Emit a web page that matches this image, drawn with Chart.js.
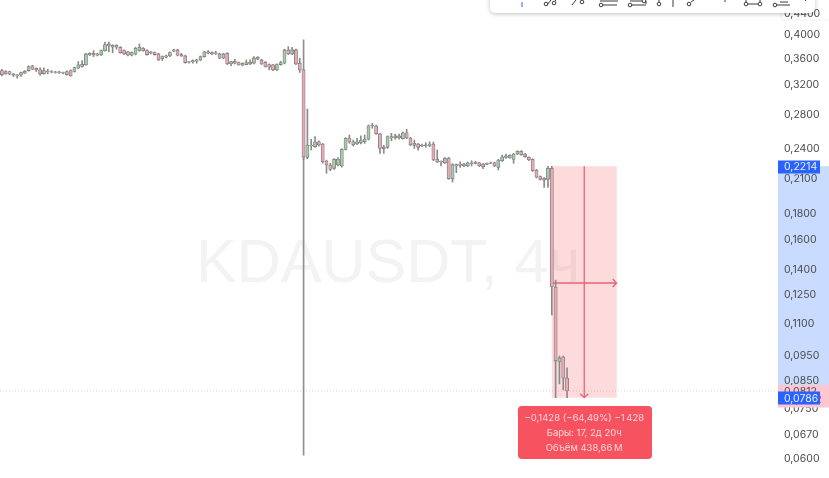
<!DOCTYPE html>
<html>
<head>
<meta charset="utf-8">
<style>
  html, body { margin: 0; padding: 0; background: #fff; }
  #wrap { width: 829px; height: 478px; overflow: hidden; }
</style>
<script src="https://cdn.jsdelivr.net/npm/chart.js@4/dist/chart.umd.min.js"></script>
</head>
<body>
<div id="wrap"><canvas id="chart1" width="829" height="478"></canvas></div>
<script>
// 4h candles
const opens = [
  .3396,.3347,.3382,.3347,.3332,.3327,.3357,.3396,.3468,.3432,.3407,.3347,.3387,.3382,.3377,.3362,.3367,.3332,.3396,.3382,
  .3432,.3458,.3484,.3670,.3643,.3659,.3643,.3713,.3826,.3770,.3803,.3770,.3713,.3692,.3638,.3654,.3713,.3753,.3713,.3692,
  .3680,.3659,.3583,.3605,.3626,.3703,.3725,.3648,.3626,.3536,.3536,.3541,.3562,.3615,.3692,.3659,.3675,.3659,.3589,.3670,
  .3499,.3541,.3520,.3510,.3489,.3526,.3510,.3605,.3562,.3526,.3489,.3484,.3407,.3489,.3510,.3725,.3659,.3725,.3510,.3407,
  .2304,.2427,.2416,.2470,.2445,.2266,.2226,.2193,.2226,.2216,.2387,.2512,.2437,.2445,.2460,.2470,.2498,.2650,.2650,.2560,
  .2394,.2409,.2527,.2516,.2512,.2505,.2571,.2512,.2431,.2445,.2423,.2427,.2431,.2445,.2283,.2263,.2249,.2297,.2094,.2216,
  .2236,.2216,.2216,.2239,.2253,.2249,.2236,.2233,.2243,.2249,.2203,.2269,.2304,.2297,.2283,.2338,.2366,.2338,.2304,.2283,
  .2177,.2113,.2097,.2088,.2193,.1290,.0922,.0943,.0858
];
const highs = [
  .3417,.3396,.3387,.3352,.3337,.3372,.3396,.3468,.3479,.3437,.3437,.3437,.3417,.3396,.3387,.3387,.3372,.3392,.3407,.3448,
  .3536,.3551,.3670,.3680,.3713,.3670,.3725,.3860,.3860,.3814,.3814,.3780,.3725,.3703,.3692,.3770,.3826,.3765,.3725,.3703,
  .3692,.3670,.3626,.3638,.3692,.3737,.3737,.3670,.3638,.3541,.3562,.3573,.3626,.3703,.3713,.3692,.3703,.3670,.3670,.3680,
  .3541,.3573,.3530,.3515,.3562,.3562,.3615,.3615,.3573,.3536,.3499,.3494,.3499,.3541,.3737,.3780,.3770,.3737,.3590,.3417,
  .2860,.2498,.2527,.2481,.2452,.2275,.2243,.2290,.2300,.2394,.2516,.2546,.2489,.2509,.2535,.2546,.2662,.2682,.2662,.2565,
  .2431,.2535,.2565,.2557,.2557,.2580,.2611,.2520,.2489,.2452,.2445,.2460,.2470,.2467,.2380,.2269,.2300,.2304,.2239,.2236,
  .2259,.2243,.2256,.2269,.2263,.2253,.2243,.2249,.2256,.2256,.2283,.2328,.2338,.2332,.2345,.2373,.2373,.2345,.2310,.2290,
  .2184,.2120,.2104,.2214,.2214,.1330,.0947,.0947,.0898
];
const lows = [
  .3317,.3342,.3332,.3307,.3282,.3307,.3352,.3387,.3412,.3382,.3327,.3342,.3347,.3362,.3357,.3352,.3347,.3327,.3312,.3372,
  .3427,.3448,.3479,.3632,.3615,.3626,.3632,.3703,.3692,.3680,.3737,.3670,.3648,.3626,.3626,.3643,.3703,.3703,.3638,.3659,
  .3638,.3551,.3551,.3594,.3615,.3692,.3626,.3615,.3510,.3510,.3510,.3510,.3551,.3605,.3659,.3648,.3648,.3583,.3583,.3489,
  .3468,.3499,.3479,.3468,.3484,.3489,.3499,.3562,.3489,.3448,.3407,.3396,.3396,.3479,.3499,.3648,.3648,.3489,.3367,.2280,
  .2290,.2380,.2409,.2423,.2243,.2145,.2170,.2183,.2216,.2205,.2380,.2452,.2423,.2437,.2445,.2452,.2489,.2623,.2553,.2345,
  .2345,.2398,.2481,.2498,.2498,.2498,.2505,.2427,.2398,.2380,.2416,.2409,.2416,.2269,.2249,.2216,.2243,.2088,.2062,.2151,
  .2203,.2210,.2210,.2216,.2236,.2210,.2190,.2229,.2239,.2210,.2177,.2263,.2293,.2293,.2243,.2332,.2325,.2304,.2269,.2163,
  .2100,.2081,.2014,.2014,.1138,.0786,.0836,.0814,.0786
];
const closes = [
  .3332,.3382,.3342,.3327,.3317,.3367,.3387,.3458,.3417,.3407,.3347,.3396,.3377,.3372,.3367,.3377,.3357,.3382,.3317,.3442,
  .3484,.3494,.3659,.3643,.3670,.3638,.3713,.3814,.3792,.3803,.3770,.3680,.3659,.3638,.3680,.3753,.3770,.3713,.3648,.3670,
  .3648,.3562,.3615,.3626,.3680,.3725,.3638,.3626,.3520,.3526,.3551,.3562,.3615,.3692,.3670,.3680,.3659,.3589,.3659,.3499,
  .3536,.3510,.3484,.3479,.3520,.3499,.3594,.3573,.3499,.3458,.3448,.3407,.3489,.3520,.3725,.3659,.3725,.3499,.3407,.2307,
  .2434,.2434,.2470,.2434,.2259,.2226,.2183,.2283,.2286,.2387,.2509,.2467,.2470,.2470,.2489,.2501,.2653,.2662,.2560,.2398,
  .2409,.2527,.2509,.2535,.2535,.2571,.2512,.2434,.2452,.2409,.2434,.2437,.2445,.2283,.2256,.2256,.2293,.2094,.2229,.2229,
  .2223,.2236,.2249,.2249,.2243,.2216,.2210,.2243,.2249,.2216,.2276,.2310,.2318,.2325,.2338,.2366,.2332,.2310,.2276,.2170,
  .2107,.2088,.2081,.2193,.1290,.0927,.0939,.0858,.0810
];
const slots = Array.from({ length: 204 }, (_, i) => i);

// right scale
const priceTicks = [.44, .4, .36, .32, .28, .24, .21, .18, .16, .14, .125, .11, .095, .085, .075, .067, .06];
const priceMin = .05488;
const priceMax = .4657;

// vertical line tool
const markerIndex = 79;
const markerRange = [.0608, .3895];

// long position measure tool
const measureFromIndex = 144;
const measureToIndex = 161;
const measureTop = .2214;
const measureBottom = .0786;
const measureMid = .1313;
const measureLines = ['\u22120,1428 (\u221264,49%) \u22121\u2009428', 'Бары: 17, 2д 20ч', 'Объём 438,66\u2009M'];

const alertPrice = .0810;
const lastPrice = .0786;
const pinkPrice = .0812;
const watermark = 'KDAUSDT, 4ч';

function fmt(v) {
  return v.toFixed(4).replace('.', ',');
}

const wicks = opens.map((o, i) => [lows[i], highs[i]]);
const bodies = opens.map((o, i) => [Math.min(o, closes[i]), Math.max(o, closes[i])]);
const marker = slots.map(i => (i === markerIndex ? markerRange : null));

// things that are not candles: bands, watermark, measure tool, toolbar
const overlay = {
  id: 'overlay',
  beforeDraw(chart) {
    const ctx = chart.ctx;
    const y = chart.scales.y;
    ctx.save();
    ctx.fillStyle = '#fff';
    ctx.fillRect(0, 0, 829, 478);
    // blue band on the scale
    ctx.fillStyle = '#c9dcff';
    ctx.fillRect(778, y.getPixelForValue(measureTop), 51, y.getPixelForValue(measureBottom) - y.getPixelForValue(measureTop));
    // box behind the top tick, mostly under the toolbar
    ctx.strokeStyle = '#efefef';
    ctx.beginPath();
    ctx.roundRect(781, -5, 60, 25, 3);
    ctx.stroke();
    ctx.restore();
  },
  beforeDatasetsDraw(chart) {
    const ctx = chart.ctx;
    const x = chart.scales.x;
    const y = chart.scales.y;
    ctx.save();
    ctx.font = '61px "Liberation Sans"';
    ctx.fillStyle = '#f3f3f3';
    ctx.textBaseline = 'alphabetic';
    ctx.textAlign = 'left';
    ctx.fillText(watermark, 196, 282);

    // dotted line
    ctx.strokeStyle = '#d9d9d9';
    ctx.setLineDash([1, 2]);
    ctx.beginPath();
    ctx.moveTo(0, y.getPixelForValue(alertPrice));
    ctx.lineTo(778, y.getPixelForValue(alertPrice));
    ctx.stroke();
    ctx.setLineDash([]);

    const left = x.getPixelForValue(measureFromIndex);
    const right = x.getPixelForValue(measureToIndex);
    const top = y.getPixelForValue(measureTop);
    const bottom = y.getPixelForValue(measureBottom);
    const mid = y.getPixelForValue(measureMid);
    const cx = (left + right) / 2;
    ctx.fillStyle = 'rgba(242,54,69,0.18)';
    ctx.fillRect(left, top, right - left, bottom - top);
    ctx.strokeStyle = 'rgba(226,70,88,0.8)';
    ctx.lineWidth = 1.3;
    ctx.beginPath();
    ctx.moveTo(cx, top);
    ctx.lineTo(cx, bottom);
    ctx.moveTo(cx - 4, bottom - 4);
    ctx.lineTo(cx, bottom);
    ctx.lineTo(cx + 4, bottom - 4);
    ctx.moveTo(left, mid);
    ctx.lineTo(right, mid);
    ctx.moveTo(right - 4, mid - 4);
    ctx.lineTo(right, mid);
    ctx.lineTo(right - 4, mid + 4);
    ctx.stroke();
    ctx.restore();
  },
  afterDraw(chart) {
    const ctx = chart.ctx;
    const x = chart.scales.x;
    const y = chart.scales.y;
    ctx.save();

    // info box of the measure tool
    const cx = (x.getPixelForValue(measureFromIndex) + x.getPixelForValue(measureToIndex)) / 2;
    ctx.fillStyle = '#f7525f';
    ctx.beginPath();
    ctx.roundRect(518, 406, 134, 53, 4);
    ctx.fill();
    ctx.fillStyle = '#ffd6da';
    ctx.font = '9.5px Inter';
    ctx.textAlign = 'center';
    ctx.textBaseline = 'middle';
    measureLines.forEach((t, i) => ctx.fillText(t, cx, 418 + i * 15));

    // price tags on the scale
    ctx.fillStyle = '#ffc6d2';
    ctx.fillRect(778, 385, 51, 22.5);
    ctx.font = '10.5px Inter';
    ctx.textAlign = 'left';
    ctx.fillStyle = '#4a4a4a';
    ctx.fillText(fmt(pinkPrice), 784, y.getPixelForValue(pinkPrice) + 1);
    ctx.fillStyle = '#e8506a';
    ctx.fillText(fmt(pinkPrice), 789, 400);
    ctx.fillStyle = '#2962ff';
    ctx.fillRect(778, 391.5, 42, 13);
    ctx.fillRect(778, 160.5, 42, 13);
    ctx.fillStyle = '#e8efff';
    ctx.fillText(fmt(lastPrice), 784, y.getPixelForValue(lastPrice) + 1);
    ctx.fillText(fmt(measureTop), 784, y.getPixelForValue(measureTop) + 1);

    // toolbar over the top edge
    ctx.shadowColor = 'rgba(0,0,0,0.25)';
    ctx.shadowBlur = 4;
    ctx.shadowOffsetY = 1;
    ctx.fillStyle = '#fff';
    ctx.beginPath();
    ctx.roundRect(490, -12, 325, 25, 5);
    ctx.fill();
    ctx.shadowColor = 'transparent';
    ctx.strokeStyle = '#3a3a3a';
    ctx.fillStyle = '#fff';
    ctx.lineWidth = 1;
    const dot = (a, b) => { ctx.beginPath(); ctx.arc(a, b, 1.8, 0, 7); ctx.stroke(); };
    const seg = (a, b, c, d) => { ctx.beginPath(); ctx.moveTo(a, b); ctx.lineTo(c, d); ctx.stroke(); };
    seg(547, 5, 551, 0); dot(546, 4); dot(554, 3); seg(555, 1, 556, 0);
    seg(572, 5, 576, 0); dot(582, 2);
    seg(600, 1, 618, 1); seg(603, 5, 617, 5); dot(601, 5);
    dot(630, 5); dot(644, 1); seg(632, 5, 646, 5); seg(630, 1, 642, 1); seg(646, 1, 646, 4);
    dot(659, 4); seg(659, 0, 659, 2);
    seg(673, 0, 673, 7);
    dot(689, 4); seg(691, 2, 694, 0);
    seg(724, 1, 726, 1);
    dot(746, 4); dot(760, 4); seg(748, 4, 758, 4); seg(746, 0, 746, 2); seg(760, 0, 760, 2);
    dot(775, 5); seg(777, 5, 790, 5); seg(780, 2, 788, 2);
    seg(805, 0, 806, 1);
    ctx.strokeStyle = '#2962ff';
    seg(522, 2, 522, 7);
    ctx.restore();
  }
};

new Chart(document.getElementById('chart1'), {
  type: 'bar',
  plugins: [overlay],
  data: {
    labels: slots,
    datasets: [
      {
        data: marker,
        grouped: false,
        order: 3,
        barThickness: 1,
        backgroundColor: '#8f8f8f',
      },
      {
        data: wicks,
        grouped: false,
        order: 2,
        barThickness: 1,
        backgroundColor: '#8a8a8a',
      },
      {
        data: bodies,
        grouped: false,
        order: 1,
        barThickness: 3.2,
        borderWidth: 0.8,
        borderSkipped: false,
        borderColor: '#7d7d7d',
        backgroundColor: ctx => (closes[ctx.dataIndex] >= opens[ctx.dataIndex] ? '#a6cba8' : '#eba9b4'),
      }
    ]
  },
  options: {
    responsive: false,
    animation: false,
    layout: { padding: 0, autoPadding: false },
    plugins: { legend: { display: false }, tooltip: { enabled: false } },
    scales: {
      x: {
        display: false,
        offset: true,
        grid: { display: false },
      },
      y: {
        type: 'logarithmic',
        position: 'right',
        min: priceMin,
        max: priceMax,
        border: { display: false },
        grid: { display: false, drawTicks: false },
        afterBuildTicks: axis => { axis.ticks = priceTicks.map(v => ({ value: v })); },
        afterFit: axis => { axis.width = 50; axis.paddingTop = 0; axis.paddingBottom = 0; },
        ticks: {
          autoSkip: false,
          padding: 5,
          labelOffset: 1,
          crossAlign: 'near',
          color: '#4a4a4a',
          font: { family: 'Inter', size: 10.5 },
          callback: v => fmt(v),
        },
      },
    },
  },
});
</script>
</body>
</html>
